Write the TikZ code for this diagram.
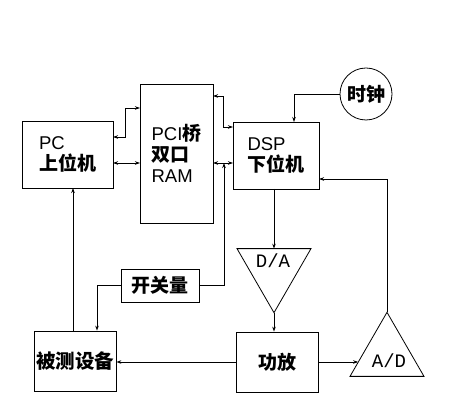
\documentclass[tikz,border=0pt]{standalone}
\usepackage{fontspec}
\setmainfont{Liberation Sans}
\newfontfamily\cjk{Noto Sans CJK SC}
\newfontfamily\monof{Liberation Mono}
\usetikzlibrary{arrows.meta,shapes.geometric}
\begin{document}
\begin{tikzpicture}[x=1pt,y=-1pt, line width=0.8pt,
  arr/.style={-{Stealth[length=5pt,width=3.5pt]}},
  darr/.style={{Stealth[length=5pt,width=3.5pt]}-{Stealth[length=5pt,width=3.5pt]}},
  blk/.style={draw, inner sep=0pt, outer sep=0pt, align=left, font=\fontsize{18.5}{21}\selectfont},
  cn/.style={font=\fontsize{19}{21}\selectfont\cjk\bfseries},
  tri/.style={draw, regular polygon, regular polygon sides=3, minimum size=85.4pt, inner sep=0pt, outer sep=0pt}]
\useasboundingbox (0,0) rectangle (474,403);
% blocks
\node[blk, minimum width=91pt, minimum height=67pt] (pc) at (67.5,154.5) {PC\\{\fontsize{19}{21}\selectfont\cjk\bfseries 上位机}};
\node[blk, minimum width=73pt, minimum height=139pt] (pci) at (176.5,153.5) {PCI{\fontsize{19}{21}\selectfont\cjk\bfseries 桥}\\{\fontsize{19}{21}\selectfont\cjk\bfseries 双口}\\RAM};
\node[blk, minimum width=86pt, minimum height=67pt] (dsp) at (276,155.5) {DSP\\{\fontsize{19}{21}\selectfont\cjk\bfseries 下位机}};
\node[draw, circle, minimum size=52pt, inner sep=0pt, cn] (clk) at (366,94) {时钟};
\node[draw, minimum width=78pt, minimum height=33pt, inner sep=0pt, cn] (kg) at (160,285.5) {开关量};
\node[draw, minimum width=82pt, minimum height=60pt, inner sep=0pt, cn, font=\fontsize{19.5}{21}\selectfont\cjk\bfseries] (dut) at (75,361) {被测设备};
\node[draw, minimum width=82pt, minimum height=60pt, inner sep=0pt, cn] (gf) at (277,362) {功放};
\node[tri, shape border rotate=180] (da) at (274,270) {};
\node[tri] (ad) at (387,355) {};
\node[font=\fontsize{19}{20}\selectfont\monof] (datxt) at (273,261) {D/A};
\node[font=\fontsize{19}{20}\selectfont\monof] (adtxt) at (389,361) {A/D};
% helper coordinates
\coordinate (h96) at (0,96);
\coordinate (h108) at (0,108);
\coordinate (h127) at (0,127);
\coordinate (h137) at (0,137);
\coordinate (h163) at (0,163);
\coordinate (h179) at (0,179);
\coordinate (x73) at (73,0);
\coordinate (bus) at (224,163);
% connectors
\draw[arr] (clk.west) -| ([xshift=18pt]dsp.north);
\draw[darr] (pc.east |- h137) -- ++(12,0) |- (pci.west |- h108);
\draw[darr] (pc.east |- h163) -- (pci.west |- h163);
\draw[darr] (pci.east |- h96) -- ++(10,0) |- (dsp.west |- h127);
\draw[darr] (pci.east |- h163) -- (dsp.west |- h163);
\draw[arr] (kg.east) -| (bus);
\draw[arr] (kg.west) -| ([xshift=22pt]dut.north);
\draw[arr] (dut.north -| x73) -- (pc.south -| x73);
\draw[arr] (da.north |- dsp.south) -- (da.north);
\draw[arr] (da.south) -- (gf.north -| da.south);
\draw[arr] (gf.west) -- (dut.east |- gf.west);
\draw[arr] (gf.east) -- (ad.194 |- gf.east);
\draw[arr] (ad.north) |- (dsp.east |- h179);
\end{tikzpicture}
\end{document}
